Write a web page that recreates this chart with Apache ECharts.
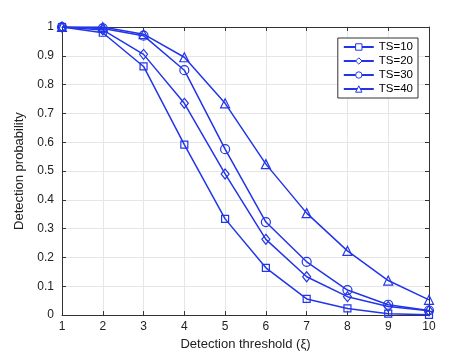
<!DOCTYPE html>
<html><head><meta charset="utf-8">
<script src="https://cdn.jsdelivr.net/npm/echarts@6/dist/echarts.min.js"></script>
<style>html,body{margin:0;padding:0;background:#fff}#c{width:474px;height:356px}</style>
</head><body><div id="c"></div>
<script>
const thresholds = [1,2,3,4,5,6,7,8,9,10];
const ts10 = [1.0, 0.98, 0.863, 0.592, 0.334, 0.164, 0.056, 0.023, 0.005, 0.001];
const ts20 = [1.0, 0.99, 0.905, 0.735, 0.49, 0.263, 0.133, 0.064, 0.030, 0.015];
const ts30 = [1.0, 0.995, 0.97, 0.85, 0.576, 0.323, 0.185, 0.087, 0.036, 0.016];
const ts40 = [1.0, 1.0, 0.975, 0.895, 0.735, 0.524, 0.354, 0.223, 0.120, 0.053];
const seriesNames = ['TS=10','TS=20','TS=30','TS=40'];
const symbols = ['rect','diamond','circle','triangle'];
const yTicks = [0,0.1,0.2,0.3,0.4,0.5,0.6,0.7,0.8,0.9,1];

const blue = '#2236e8';
const font = 'Liberation Sans, Arial, sans-serif';
const all = [ts10, ts20, ts30, ts40];
const chart = echarts.init(document.getElementById('c'));
const axisCommon = {
  axisLine:{show:true,onZero:false,lineStyle:{color:'#333',width:1}},
  axisTick:{show:true,inside:true,length:4,lineStyle:{color:'#333'}},
};
chart.setOption({
  animation:false,
  backgroundColor:'#fff',
  grid:{left:62,right:45,top:27,bottom:39},
  legend:{
    orient:'vertical', right:56, top:38,
    backgroundColor:'#fff', borderColor:'#333', borderWidth:1,
    padding:[3,5,3,5], itemGap:2, itemWidth:30, itemHeight:8,
    textStyle:{fontFamily:font,fontSize:11.5,color:'#000'},
    itemStyle:{color:'#fff',borderColor:blue,borderWidth:1},
    data: seriesNames
  },
  xAxis:[{
    type:'value', min:1, max:10, interval:1,
    name:'Detection threshold (\u03BE)', nameLocation:'middle', nameGap:22,
    nameTextStyle:{fontFamily:font,fontSize:13,color:'#222'},
    axisLabel:{fontFamily:font,fontSize:12,color:'#222',margin:6},
    splitLine:{show:true,lineStyle:{color:'#e6e6e6'}},
    ...axisCommon
  },{
    type:'value', min:1, max:10, interval:1, position:'top',
    axisLabel:{show:false}, splitLine:{show:false}, ...axisCommon
  }],
  yAxis:[{
    type:'value', min:0, max:1, interval:0.1,
    name:'Detection probability', nameLocation:'middle', nameGap:36,
    nameTextStyle:{fontFamily:font,fontSize:13,color:'#222'},
    axisLabel:{fontFamily:font,fontSize:12,color:'#222',margin:8,
      formatter:v=>{const t=yTicks.find(x=>Math.abs(x-v)<1e-9);return t===undefined?'':String(t);}},
    splitLine:{show:true,lineStyle:{color:'#e6e6e6'}},
    ...axisCommon
  },{
    type:'value', min:0, max:1, interval:0.1, position:'right',
    axisLabel:{show:false}, splitLine:{show:false}, ...axisCommon
  }],
  series: all.map((d,i)=>({
    name:seriesNames[i], type:'line',
    data: thresholds.map((x,j)=>[x,d[j]]),
    symbol:symbols[i], symbolSize: symbols[i]==='circle'?9:(symbols[i]==='rect'?7:(symbols[i]==='diamond'?[8,10]:9)),
    showAllSymbol:true,
    lineStyle:{color:blue,width:1.5},
    itemStyle:{color:'rgba(255,255,255,0)',borderColor:blue,borderWidth:1.2},
    emphasis:{disabled:true}
  }))
});
</script></body></html>
